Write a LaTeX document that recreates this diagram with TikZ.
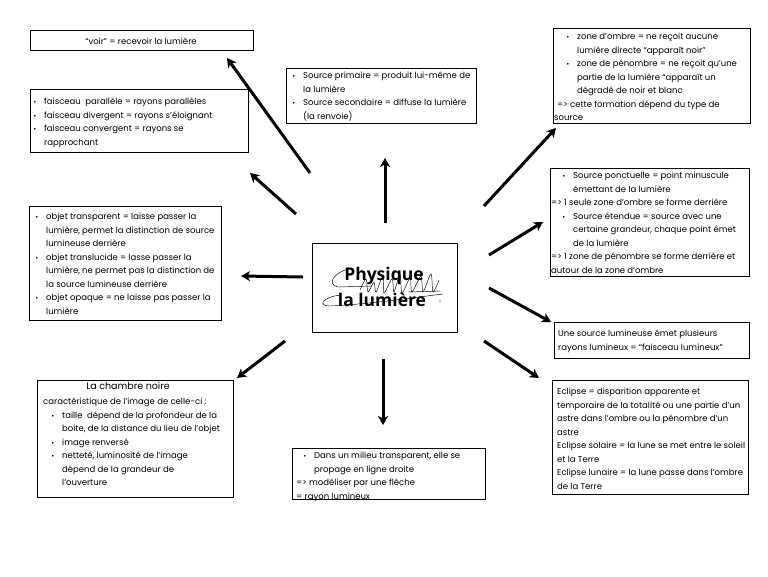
\documentclass[tikz,border=0pt]{standalone}
\usepackage{fontspec}
\setmainfont{Poppins}
\newfontfamily\titlefont{Open Sans}
\newfontfamily\symfont{DejaVu Sans}
\usetikzlibrary{arrows.meta}
\newcommand\boxfont{\fontsize{8.5}{13.5}\selectfont}
\newcommand\bl[2]{\hspace*{#1pt}\makebox[11pt][l]{\symfont\fontsize{6}{6}\selectfont•}#2}
\newcommand\cl[2]{\hspace*{#1pt}#2}
\tikzset{
  frame/.style={draw=black, line width=0.9pt, anchor=north west, inner sep=0pt},
  txt/.style={anchor=north west, inner sep=0pt, align=left, font=\boxfont},
  bigarrow/.style={line width=3pt, -{Stealth[length=9pt,width=10pt,inset=2.5pt]}},
  scrib/.style={line width=0.45pt, black}
}
\begin{document}
\begin{tikzpicture}[x=1pt,y=-1pt]
\useasboundingbox[fill=white] (0,0) rectangle (768,576);
% frames
\node[frame, minimum width=223pt, minimum height=20pt] (fvoir) at (30,30) {};
\node[frame, minimum width=218pt, minimum height=63pt] (ffais) at (30,89) {};
\node[frame, minimum width=190pt, minimum height=55pt] (fsrc) at (286,68) {};
\node[frame, minimum width=197pt, minimum height=95pt] (fombre) at (553,28) {};
\node[frame, minimum width=199pt, minimum height=108pt] (fponct) at (550,168) {};
\node[frame, minimum width=195pt, minimum height=36pt] (fune) at (554,322) {};
\node[frame, minimum width=196pt, minimum height=114pt] (fecl) at (552,380) {};
\node[frame, minimum width=193pt, minimum height=51pt] (fmil) at (292,448) {};
\node[frame, minimum width=196pt, minimum height=117pt] (fcham) at (37,380) {};
\node[frame, minimum width=192pt, minimum height=114pt] (fobj) at (29,206) {};
\node[frame, minimum width=145pt, minimum height=89pt] (center) at (312,243) {};
% texts
\node[font=\boxfont, inner sep=0pt] (tvoir) at (141,41) {“voir” = recevoir la lumière};
\node[txt] (tfais) at (30,98) {\bl{3}{faisceau\ \ parallèle = rayons parallèles}\\
\bl{3}{faisceau divergent = rayons s’éloignant}\\
\bl{3}{faisceau convergent = rayons se}\\
\cl{14}{rapprochant}};
\node[txt] (tsrc) at (286,72) {\bl{6}{Source primaire = produit lui-même de}\\
\cl{17}{la lumière}\\
\bl{6}{Source secondaire = diffuse la lumière}\\
\cl{17}{(la renvoie)}};
\node[txt] (tombre) at (553,33) {\bl{13}{zone d’ombre = ne reçoit aucune}\\
\cl{24}{lumière directe “apparaît noir”}\\
\bl{13}{zone de pénombre = ne reçoit qu’une}\\
\cl{24}{partie de la lumière “apparaît un}\\
\cl{24}{dégradé de noir et blanc}\\
\cl{4}{=> cette formation dépend du type de}\\
\cl{1}{source}};
\node[txt] (tponct) at (550,172) {\bl{12}{Source ponctuelle = point minuscule}\\
\cl{23}{émettant de la lumière}\\
\cl{1}{=> 1 seule zone d’ombre se forme derrière}\\
\bl{12}{Source étendue = source avec une}\\
\cl{23}{certaine grandeur, chaque point émet}\\
\cl{23}{de la lumière}\\
\cl{1}{=> 1 zone de pénombre se forme derrière et}\\
\cl{1}{autour de la zone d’ombre}};
\node[txt] (tune) at (558,330) {Une source lumineuse émet plusieurs\\
rayons lumineux = “faisceau lumineux”};
\node[txt] (tecl) at (557,388) {Eclipse = disparition apparente et\\
temporaire de la totalité ou une partie d’un\\
astre dans l’ombre ou la pénombre d’un\\
astre\\
Eclipse solaire = la lune se met entre le soleil\\
et la Terre\\
Eclipse lunaire = la lune passe dans l’ombre\\
de la Terre};
\node[txt] (tmil) at (296,452) {\bl{7}{Dans un milieu transparent, elle se}\\
\cl{18}{propage en ligne droite}\\
\cl{0}{=> modéliser par une flèche}\\
\cl{0}{= rayon lumineux}};
\node[font=\fontsize{9.5}{11}\selectfont, inner sep=0pt] (tchamt) at (128,386) {La chambre noire};
\node[txt] (tcham) at (43,398) {\cl{0}{caractéristique de l’image de celle-ci :}\\
\bl{8}{taille\ \ dépend de la profondeur de la}\\
\cl{19}{boite, de la distance du lieu de l’objet}\\
\bl{8}{image renversé}\\
\bl{8}{netteté, luminosité de l’image}\\
\cl{19}{dépend de la grandeur de}\\
\cl{19}{l’ouverture}};
\node[txt] (tobj) at (29,213) {\bl{6}{objet transparent = laisse passer la}\\
\cl{17}{lumière, permet la distinction de source}\\
\cl{17}{lumineuse derrière}\\
\bl{6}{objet translucide = lasse passer la}\\
\cl{17}{lumière, ne permet pas la distinction de}\\
\cl{17}{la source lumineuse derrière}\\
\bl{6}{objet opaque = ne laisse pas passer la}\\
\cl{17}{lumière}};
% scribble
\draw[scrib] (348,269) .. controls (334,273) and (326,284) .. (338,287) -- (372,286);
\draw[scrib] (341,295) .. controls (322,297) and (317,306) .. (330,306) .. controls (370,304) and (410,298) .. (443,294);
\draw[scrib] plot[smooth, tension=0.5] coordinates {(360,290) (366,279) (368,292) (374,282) (376,292) (383,276) (384,293) (392,279) (394,292) (400,274) (402,293) (410,278) (412,292) (421,276) (423,292) (431,274) (433,292) (439,280)};
\draw[scrib] (408,292) -- (440,291);
\fill (440,301) circle (0.6pt);
% center title
\node[font=\titlefont\bfseries\fontsize{17.5}{20}\selectfont, anchor=base, inner sep=0pt] (phys) at (384,280) {Physique};
\node[font=\titlefont\bfseries\fontsize{17.5}{20}\selectfont, anchor=base, inner sep=0pt] (lum) at (382,306) {la lumière};
% arrow end points
\coordinate (a1t) at (310,173); \coordinate (a1h) at (227,58);
\coordinate (a2t) at (296,214); \coordinate (a2h) at (250,173);
\coordinate (a3t) at (385,223); \coordinate (a3h) at (385,158);
\coordinate (a4t) at (303,277); \coordinate (a4h) at (241,276);
\coordinate (a5t) at (285,341); \coordinate (a5h) at (237,378);
\coordinate (a6t) at (383,359); \coordinate (a6h) at (383,425);
\coordinate (a7t) at (484,206); \coordinate (a7h) at (556,128);
\coordinate (a8t) at (489,255); \coordinate (a8h) at (543,222);
\coordinate (a9t) at (489,288); \coordinate (a9h) at (551,322);
\coordinate (a10t) at (484,341); \coordinate (a10h) at (539,378);
\foreach \i in {1,...,10} \draw[bigarrow] (a\i t) -- (a\i h);
\end{tikzpicture}
\end{document}
